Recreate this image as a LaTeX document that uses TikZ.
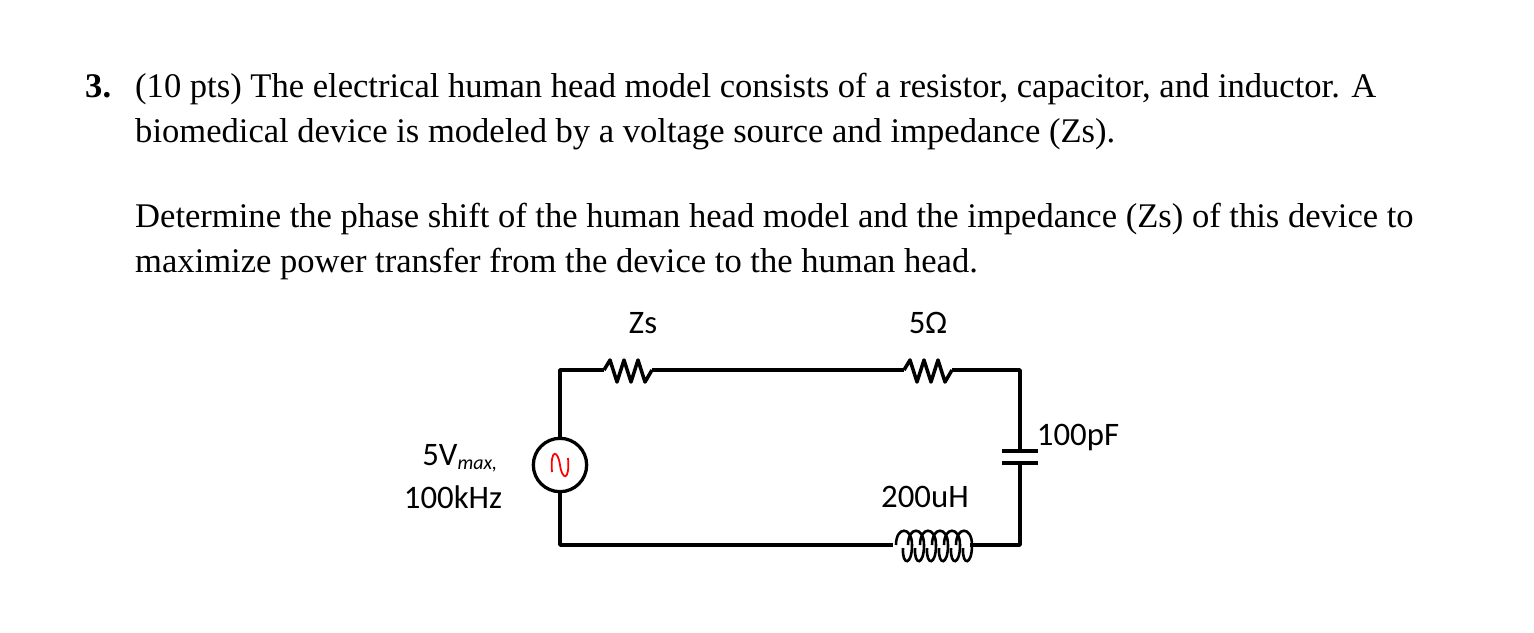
\documentclass[tikz,border=0pt]{standalone}
\usepackage{fontspec}
\setmainfont{Liberation Serif}
\newfontfamily\calfont{Carlito}
\begin{document}
\begin{tikzpicture}[x=0.03cm,y=-0.03cm,
  wire/.style={line width=3pt,line join=round},
  qtext/.style={anchor=base west,inner sep=0,font=\fontsize{29.5pt}{34pt}\selectfont},
  clabel/.style={inner sep=0,font=\calfont\fontsize{28pt}{32pt}\selectfont}]
\useasboundingbox (0,0) rectangle (1534,632);
\node[qtext] (n3) at (85,97) {\textbf{3.}};
\node[qtext] (l1) at (135,97) {(10 pts) The electrical human head model consists of a resistor, capacitor, and inductor. A};
\node[qtext] (l2) at (135,142) {biomedical device is modeled by a voltage source and impedance (Zs).};
\node[qtext] (l3) at (135,227) {Determine the phase shift of the human head model and the impedance (Zs) of this device to};
\node[qtext] (l4) at (135,272) {maximize power transfer from the device to the human head.};
% source
\node[draw,circle,line width=2.8pt,minimum size=1.6cm,inner sep=0] (src) at (560,465) {};
\draw[red,line width=1.5pt] (552,472) .. controls (550,448) and (558,450) .. (560,465) .. controls (562,480) and (570,482) .. (568,458);
\coordinate (tl) at (560,370);
\coordinate (tr) at (1020,370);
\coordinate (bl) at (560,545);
\coordinate (br) at (1020,545);
\coordinate (zsa) at (604,370); \coordinate (zsb) at (652,370);
\coordinate (ra) at (904,370); \coordinate (rb) at (952,370);
\coordinate (ca) at (1020,451); \coordinate (cb) at (1020,463);
\coordinate (la) at (893,545); \coordinate (lb) at (970,545);
\draw[wire] (src.north) -- (tl) -- (zsa);
\draw[wire] (zsa) -- ++(6,-10) -- ++(7,22) -- ++(7,-22) -- ++(7,22) -- ++(7,-22) -- ++(7,22) -- (zsb);
\draw[wire] (zsb) -- (ra);
\draw[wire] (ra) -- ++(6,-10) -- ++(7,22) -- ++(7,-22) -- ++(7,22) -- ++(7,-22) -- ++(7,22) -- (rb);
\draw[wire] (rb) -- (tr) -- (ca);
\draw[line width=3.5pt] (1002,451) -- (1038,451);
\draw[line width=3.5pt] (1002,463) -- (1038,463);
\draw[wire] (cb) -- (br) -- (lb);
\draw[wire] (src.south) -- (bl) -- (la);
\foreach \i in {0,...,5}{
  \draw[line width=2.2pt] (896+\i*12,545) .. controls (896+\i*12,526) and (912+\i*12,526) .. (912+\i*12,545)
     .. controls (912+\i*12,566) and (902+\i*12,566) .. (903+\i*12,548);
}
\node[clabel] (lzs) at (643,323) {Zs};
\node[clabel] (l5) at (928,323) {5Ω};
\node[clabel] (lc) at (1078,437) {100pF};
\node[clabel] (lv) at (460,458) {5V\textsubscript{\fontsize{17pt}{19pt}\selectfont\itshape max,}};
\node[clabel] (lf) at (453,497) {100kHz};
\node[clabel] (ll) at (925,497) {200uH};
\end{tikzpicture}
\end{document}
